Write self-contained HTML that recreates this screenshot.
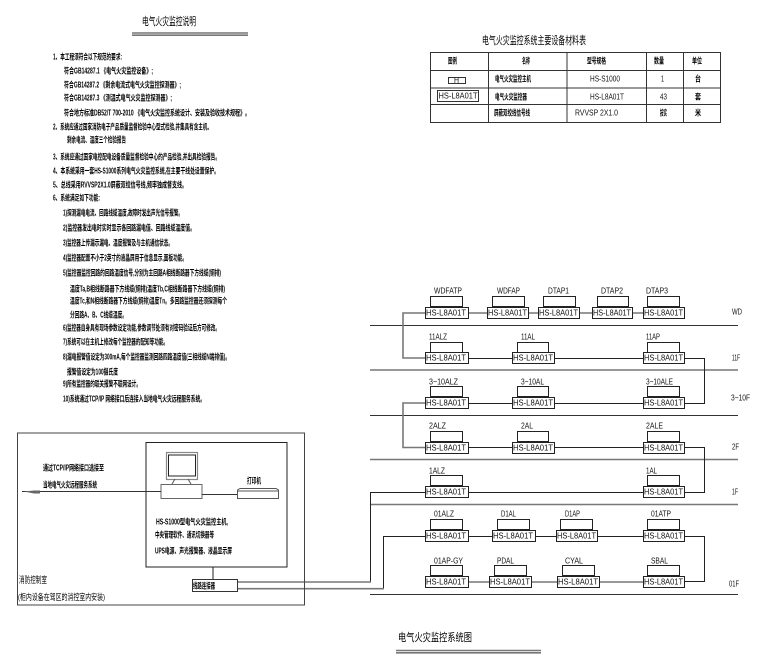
<!DOCTYPE html>
<html><head><meta charset="utf-8"><style>
html,body{margin:0;padding:0;background:#fff}
svg{display:block}
text{font-family:"Liberation Sans","Noto Sans CJK SC",sans-serif;fill:#000}
.b text{font-size:8px;font-weight:700;dominant-baseline:central}
.h text{font-size:8px;font-family:"Liberation Sans",sans-serif;dominant-baseline:central;fill:#111}
.t{font-size:11px;font-weight:400;dominant-baseline:central}
.n rect{fill:#fff;stroke:#222;stroke-width:1}
.l{stroke:#222;stroke-width:1;fill:none}
.g2{stroke:#777;stroke-width:1.6;fill:none}
</style></head><body>
<svg width="760" height="661" viewBox="0 0 760 661" xmlns="http://www.w3.org/2000/svg">
<rect width="760" height="661" fill="#fff"/>

<!-- Top title -->
<text class="t" x="142" y="22" textLength="54" lengthAdjust="spacingAndGlyphs">电气火灾监控说明</text>
<path class="g2" d="M132 33H248M132 35.2H248"/>

<!-- Notes -->
<g class="b">
<text x="53" y="57" textLength="69" lengthAdjust="spacingAndGlyphs">1、本工程须符合以下规范的要求:</text>
<text x="64" y="71" textLength="89" lengthAdjust="spacingAndGlyphs">符合GB14287.1 《电气火灾监控设备》;</text>
<text x="64" y="85" textLength="117" lengthAdjust="spacingAndGlyphs">符合GB14287.2 《剩余电流式电气火灾监控探测器》;</text>
<text x="64" y="98" textLength="108" lengthAdjust="spacingAndGlyphs">符合GB14287.3 《测温式电气火灾监控探测器》;</text>
<text x="64" y="113" textLength="186" lengthAdjust="spacingAndGlyphs">符合地方标准DB52/T 700-2010 《电气火灾监控系统设计、安装及验收技术规程》。</text>
<text x="53" y="127" textLength="159" lengthAdjust="spacingAndGlyphs">2、系统应通过国家消防电子产品质量监督检验中心型式检验,并集具有含主机、</text>
<text x="67" y="140" textLength="59" lengthAdjust="spacingAndGlyphs">剩余电流、温度三个检验报告</text>
<text x="53" y="157" textLength="167" lengthAdjust="spacingAndGlyphs">3、系统应通过国家电控配电设备质量监督检验中心的产品检验,并出具检验报告。</text>
<text x="53" y="171" textLength="166" lengthAdjust="spacingAndGlyphs">4、本系统采用一套HS-S1000系列电气火灾监控系统,在主要干线处设置保护。</text>
<text x="53" y="185" textLength="134" lengthAdjust="spacingAndGlyphs">5、总线采用RVVSP2X1.0屏蔽双绞信号线,频率独成督支线。</text>
<text x="53" y="198" textLength="47" lengthAdjust="spacingAndGlyphs">6、系统满足如下功能:</text>
<text x="63" y="213" textLength="120" lengthAdjust="spacingAndGlyphs">1)探测漏电电流、回路线缆温度,故障时发出声光信号报警。</text>
<text x="63" y="228" textLength="132" lengthAdjust="spacingAndGlyphs">2)监控器发出电时实时显示各回路漏电值、回路线缆温度值。</text>
<text x="63" y="243" textLength="110" lengthAdjust="spacingAndGlyphs">3)监控器上传漏示漏电、温度报警及与主机通信状态。</text>
<text x="63" y="258" textLength="124" lengthAdjust="spacingAndGlyphs">4)监控器配置不小于2英寸的液晶屏用于信息显示,面板功能。</text>
<text x="63" y="273" textLength="158" lengthAdjust="spacingAndGlyphs">5)监控器监控回路的回路温度信号,分别为主回路A相线断路器下方线缆(铜排)</text>
<text x="70" y="289" textLength="155" lengthAdjust="spacingAndGlyphs">温度Ta,B相线断路器下方线缆(铜排)温度Tb,C相线断路器下方线缆(铜排)</text>
<text x="70" y="301" textLength="157" lengthAdjust="spacingAndGlyphs">温度Tc,和N相线断路器下方线缆(铜排)温度Tn。多回路监控器还须探测每个</text>
<text x="70" y="315" textLength="57" lengthAdjust="spacingAndGlyphs">分回路A、B、C线缆温度。</text>
<text x="63" y="328" textLength="157" lengthAdjust="spacingAndGlyphs">6)监控器自身具有现场参数设定功能,参数调节处须有对密码验证后方可修改。</text>
<text x="63" y="342" textLength="105" lengthAdjust="spacingAndGlyphs">7)系统可以在主机上修改每个监控器的配知等功能。</text>
<text x="63" y="357" textLength="167" lengthAdjust="spacingAndGlyphs">8)漏电报警值设定为300mA,每个监控器监测回路四路温度值(三相线缆N端排值)。</text>
<text x="67" y="372" textLength="51" lengthAdjust="spacingAndGlyphs">报警值设定为100摄氏度</text>
<text x="63" y="384" textLength="78" lengthAdjust="spacingAndGlyphs">9)所有监控器的联关报警不联网设计。</text>
<text x="63" y="399" textLength="142" lengthAdjust="spacingAndGlyphs">10)系统通过TCP/IP 网络接口后连接入当地电气火灾远程服务系统。</text>
</g>

<!-- Table -->
<text class="t" x="482" y="41" textLength="104" lengthAdjust="spacingAndGlyphs">电气火灾监控系统主要设备材料表</text>
<path d="M430.5 52.5H720.5V122.5H430.5Z M430.5 70.5H720.5 M430.5 88H720.5 M430.5 104.5H720.5 M488.5 52.5V122.5 M567 52.5V122.5 M646.5 52.5V122.5 M683.5 52.5V122.5" stroke="#333" stroke-width="1" fill="none"/>
<g class="b">
<text x="448" y="61" textLength="9" lengthAdjust="spacingAndGlyphs">图例</text>
<text x="522" y="61" textLength="8" lengthAdjust="spacingAndGlyphs">名称</text>
<text x="587" y="61" textLength="19" lengthAdjust="spacingAndGlyphs">型号规格</text>
<text x="654" y="61" textLength="10" lengthAdjust="spacingAndGlyphs">数量</text>
<text x="692" y="61" textLength="10" lengthAdjust="spacingAndGlyphs">单位</text>
<text x="495" y="79" textLength="36" lengthAdjust="spacingAndGlyphs">电气火灾监控主机</text>
<text x="695" y="79" textLength="6" lengthAdjust="spacingAndGlyphs">台</text>
<text x="495" y="97" textLength="32" lengthAdjust="spacingAndGlyphs">电气火灾监控器</text>
<text x="695" y="97" textLength="6" lengthAdjust="spacingAndGlyphs">套</text>
<text x="494" y="113" textLength="36" lengthAdjust="spacingAndGlyphs">屏蔽双绞线信号线</text>
<text x="660" y="113" textLength="7" lengthAdjust="spacingAndGlyphs">按实</text>
<text x="695" y="113" textLength="6" lengthAdjust="spacingAndGlyphs">米</text>
</g>
<g class="h">
<rect x="448.5" y="77.5" width="17" height="6" fill="#fff" stroke="#333"/>
<text x="454" y="80.5" textLength="5" lengthAdjust="spacingAndGlyphs">H</text>
<rect x="437.5" y="90.5" width="41" height="11" fill="#fff" stroke="#333"/>
<text x="438.5" y="96" textLength="39" lengthAdjust="spacingAndGlyphs">HS-L8A01T</text>
<text x="590" y="79" textLength="30" lengthAdjust="spacingAndGlyphs">HS-S1000</text>
<text x="661" y="79" textLength="3" lengthAdjust="spacingAndGlyphs">1</text>
<text x="590" y="97" textLength="34" lengthAdjust="spacingAndGlyphs">HS-L8A01T</text>
<text x="660" y="97" textLength="7" lengthAdjust="spacingAndGlyphs">43</text>
<text x="575" y="113" textLength="43" lengthAdjust="spacingAndGlyphs">RVVSP 2X1.0</text>
</g>

<!-- Floor lines -->
<path d="M370 325.5H738 M370 415.5H738 M370 594.5H738" stroke="#333" stroke-width="1" fill="none"/>
<path class="g2" d="M370 370H738 M370 459.5H738 M370 504.5H738"/>

<!-- Connectors -->
<path class="g2" d="M425 313H403V358H425 M468 313H487 M528 313H538 M579 313H592 M632 313H643"/>
<path class="l" d="M468 358.5H512 M554 358.5H643 M684 358.5H704.5V403.5H684 M468 403.5H512 M554 403.5H643"/>
<path class="g2" d="M425 403H403V447.5H425"/>
<path class="l" d="M468 447.5H512 M554 447.5H643 M684 447.5H704.5V492.5H684 M468 492.5H643"/>
<path class="l" d="M425 492.5H370.5V581.5"/>
<path class="l" d="M425 536.5H383.5V588.5"/>
<path class="g2" d="M238 582H371 M238 588.7H384"/>
<path class="l" d="M468 536.5H492 M535 536.5H556 M597 536.5H643 M684 536.5H704.5V581.5H684"/>
<path class="g2" d="M468 582H489 M531 582H557 M599 582H643"/>

<!-- Nodes -->
<g class="n">
<rect x="430.5" y="296.5" width="32" height="10"/><rect x="492.5" y="296.5" width="32" height="10"/><rect x="543.5" y="296.5" width="32" height="10"/><rect x="597.5" y="296.5" width="31" height="10"/><rect x="647.5" y="296.5" width="32" height="10"/>
<rect x="425.5" y="307.5" width="43" height="11"/><rect x="487.5" y="307.5" width="41" height="11"/><rect x="538.5" y="307.5" width="41" height="11"/><rect x="592.5" y="307.5" width="40" height="11"/><rect x="643.5" y="307.5" width="41" height="11"/>

<rect x="430.5" y="342.5" width="32" height="10"/><rect x="517.5" y="342.5" width="31" height="10"/><rect x="647.5" y="342.5" width="32" height="10"/>
<rect x="425.5" y="352.5" width="43" height="11"/><rect x="512.5" y="352.5" width="42" height="11"/><rect x="643.5" y="352.5" width="41" height="11"/>

<rect x="430.5" y="386.5" width="32" height="10"/><rect x="517.5" y="386.5" width="31" height="10"/><rect x="647.5" y="386.5" width="32" height="10"/>
<rect x="425.5" y="397.5" width="43" height="11"/><rect x="512.5" y="397.5" width="42" height="11"/><rect x="643.5" y="397.5" width="41" height="11"/>

<rect x="430.5" y="431.5" width="32" height="10"/><rect x="517.5" y="431.5" width="31" height="10"/><rect x="647.5" y="431.5" width="32" height="10"/>
<rect x="425.5" y="442.5" width="43" height="11"/><rect x="512.5" y="442.5" width="42" height="11"/><rect x="643.5" y="442.5" width="41" height="11"/>

<rect x="430.5" y="475.5" width="32" height="10"/><rect x="647.5" y="475.5" width="32" height="10"/>
<rect x="425.5" y="486.5" width="43" height="11"/><rect x="643.5" y="486.5" width="41" height="11"/>

<rect x="430.5" y="519.5" width="32" height="10"/><rect x="497.5" y="519.5" width="32" height="10"/><rect x="560.5" y="519.5" width="32" height="10"/><rect x="647.5" y="519.5" width="32" height="10"/>
<rect x="425.5" y="530.5" width="43" height="11"/><rect x="492.5" y="530.5" width="43" height="11"/><rect x="556.5" y="530.5" width="41" height="11"/><rect x="643.5" y="530.5" width="41" height="11"/>

<rect x="430.5" y="565.5" width="32" height="10"/><rect x="494.5" y="565.5" width="32" height="10"/><rect x="562.5" y="565.5" width="32" height="10"/><rect x="647.5" y="565.5" width="32" height="10"/>
<rect x="425.5" y="576.5" width="43" height="11"/><rect x="489.5" y="576.5" width="42" height="11"/><rect x="557.5" y="576.5" width="42" height="11"/><rect x="643.5" y="576.5" width="41" height="11"/>
</g>

<!-- Node text -->
<g class="h">
<text x="426" y="313" textLength="40" lengthAdjust="spacingAndGlyphs">HS-L8A01T</text><text x="488" y="313" textLength="39" lengthAdjust="spacingAndGlyphs">HS-L8A01T</text><text x="539" y="313" textLength="39" lengthAdjust="spacingAndGlyphs">HS-L8A01T</text><text x="593" y="313" textLength="38" lengthAdjust="spacingAndGlyphs">HS-L8A01T</text><text x="644" y="313" textLength="39" lengthAdjust="spacingAndGlyphs">HS-L8A01T</text>
<text x="426" y="358" textLength="40" lengthAdjust="spacingAndGlyphs">HS-L8A01T</text><text x="513" y="358" textLength="40" lengthAdjust="spacingAndGlyphs">HS-L8A01T</text><text x="644" y="358" textLength="39" lengthAdjust="spacingAndGlyphs">HS-L8A01T</text>
<text x="426" y="403" textLength="40" lengthAdjust="spacingAndGlyphs">HS-L8A01T</text><text x="513" y="403" textLength="40" lengthAdjust="spacingAndGlyphs">HS-L8A01T</text><text x="644" y="403" textLength="39" lengthAdjust="spacingAndGlyphs">HS-L8A01T</text>
<text x="426" y="448" textLength="40" lengthAdjust="spacingAndGlyphs">HS-L8A01T</text><text x="513" y="448" textLength="40" lengthAdjust="spacingAndGlyphs">HS-L8A01T</text><text x="644" y="448" textLength="39" lengthAdjust="spacingAndGlyphs">HS-L8A01T</text>
<text x="426" y="492" textLength="40" lengthAdjust="spacingAndGlyphs">HS-L8A01T</text><text x="644" y="492" textLength="39" lengthAdjust="spacingAndGlyphs">HS-L8A01T</text>
<text x="426" y="536" textLength="40" lengthAdjust="spacingAndGlyphs">HS-L8A01T</text><text x="493" y="536" textLength="40" lengthAdjust="spacingAndGlyphs">HS-L8A01T</text><text x="557" y="536" textLength="39" lengthAdjust="spacingAndGlyphs">HS-L8A01T</text><text x="644" y="536" textLength="39" lengthAdjust="spacingAndGlyphs">HS-L8A01T</text>
<text x="426" y="582" textLength="40" lengthAdjust="spacingAndGlyphs">HS-L8A01T</text><text x="490" y="582" textLength="40" lengthAdjust="spacingAndGlyphs">HS-L8A01T</text><text x="558" y="582" textLength="40" lengthAdjust="spacingAndGlyphs">HS-L8A01T</text><text x="644" y="582" textLength="39" lengthAdjust="spacingAndGlyphs">HS-L8A01T</text>

<text x="434" y="291" textLength="28" lengthAdjust="spacingAndGlyphs">WDFATP</text><text x="497" y="291" textLength="23" lengthAdjust="spacingAndGlyphs">WDFAP</text><text x="548" y="291" textLength="21" lengthAdjust="spacingAndGlyphs">DTAP1</text><text x="601" y="291" textLength="22" lengthAdjust="spacingAndGlyphs">DTAP2</text><text x="646" y="291" textLength="22" lengthAdjust="spacingAndGlyphs">DTAP3</text>
<text x="429" y="337" textLength="18" lengthAdjust="spacingAndGlyphs">11ALZ</text><text x="521" y="337" textLength="14" lengthAdjust="spacingAndGlyphs">11AL</text><text x="646" y="337" textLength="14" lengthAdjust="spacingAndGlyphs">11AP</text>
<text x="429" y="382" textLength="29" lengthAdjust="spacingAndGlyphs">3~10ALZ</text><text x="521" y="382" textLength="23" lengthAdjust="spacingAndGlyphs">3~10AL</text><text x="646" y="382" textLength="27" lengthAdjust="spacingAndGlyphs">3~10ALE</text>
<text x="429" y="426" textLength="17" lengthAdjust="spacingAndGlyphs">2ALZ</text><text x="521" y="426" textLength="12" lengthAdjust="spacingAndGlyphs">2AL</text><text x="646" y="426" textLength="17" lengthAdjust="spacingAndGlyphs">2ALE</text>
<text x="429" y="471" textLength="16" lengthAdjust="spacingAndGlyphs">1ALZ</text><text x="646" y="471" textLength="11" lengthAdjust="spacingAndGlyphs">1AL</text>
<text x="434" y="514" textLength="20" lengthAdjust="spacingAndGlyphs">01ALZ</text><text x="501" y="514" textLength="15" lengthAdjust="spacingAndGlyphs">D1AL</text><text x="565" y="514" textLength="15" lengthAdjust="spacingAndGlyphs">D1AP</text><text x="651" y="514" textLength="20" lengthAdjust="spacingAndGlyphs">01ATP</text>
<text x="434" y="561" textLength="29" lengthAdjust="spacingAndGlyphs">01AP-GY</text><text x="497" y="561" textLength="17" lengthAdjust="spacingAndGlyphs">PDAL</text><text x="565" y="561" textLength="18" lengthAdjust="spacingAndGlyphs">CYAL</text><text x="651" y="561" textLength="17" lengthAdjust="spacingAndGlyphs">SBAL</text>

<text x="732" y="312" textLength="10" lengthAdjust="spacingAndGlyphs">WD</text>
<text x="732" y="358" textLength="8" lengthAdjust="spacingAndGlyphs">11F</text>
<text x="731" y="398" textLength="19" lengthAdjust="spacingAndGlyphs">3~10F</text>
<text x="732" y="447" textLength="7" lengthAdjust="spacingAndGlyphs">2F</text>
<text x="732" y="492" textLength="6" lengthAdjust="spacingAndGlyphs">1F</text>
<text x="729" y="584" textLength="10" lengthAdjust="spacingAndGlyphs">01F</text>
</g>

<!-- Control room -->
<rect x="17.5" y="433" width="287" height="172" fill="none" stroke="#444" stroke-width="1"/>
<rect x="146" y="442.5" width="141" height="124.5" fill="none" stroke="#222" stroke-width="1"/>
<rect x="166.5" y="452.5" width="31" height="27" fill="#fff" stroke="#888" stroke-width="1.2"/>
<rect x="168.5" y="455" width="27" height="21" fill="#fff" stroke="#222" stroke-width="1"/>
<path d="M175 479L172 484M188 479L191 484" stroke="#555" fill="none"/>
<rect x="161" y="484.5" width="41" height="14" fill="#fff" stroke="#666" stroke-width="1"/>
<path d="M22 491.5H161M202 494.5H237" stroke="#333" fill="none"/>
<path d="M24 491.5L34 490.5H40V493.5H34Z" fill="#666" stroke="none"/>
<path d="M237.5 498.5V490L240 488.5H276L278.5 490V498.5Z M237.5 491H278.5" fill="none" stroke="#555"/>
<path d="M213 567V579" stroke="#222" fill="none"/>
<rect x="192.5" y="579.5" width="45" height="12" fill="#fff" stroke="#333"/>
<g class="b">
<text x="43" y="468" textLength="61" lengthAdjust="spacingAndGlyphs">通过TCP/IP网络接口选接至</text>
<text x="43" y="485" textLength="54" lengthAdjust="spacingAndGlyphs">当地电气火灾远程服务系统</text>
<text x="247" y="481" textLength="14" lengthAdjust="spacingAndGlyphs">打印机</text>
<text x="156" y="522" textLength="72" lengthAdjust="spacingAndGlyphs">HS-S1000型电气火灾监控主机,</text>
<text x="155" y="535" textLength="59" lengthAdjust="spacingAndGlyphs">中央管理软件、通讯切换器等</text>
<text x="155" y="551" textLength="77" lengthAdjust="spacingAndGlyphs">UPS电源、声光报警器、液晶显示屏</text>
<text x="193" y="586" textLength="22" lengthAdjust="spacingAndGlyphs">线路连接器</text>
<text x="19" y="580" textLength="28" lengthAdjust="spacingAndGlyphs" style="font-size:9px;font-weight:400">消防控制室</text>
<text x="18" y="597" textLength="87" lengthAdjust="spacingAndGlyphs" style="font-size:8.5px;font-weight:400">(柜内设备在驾区的消控室内安装)</text>
</g>

<!-- Bottom title -->
<text class="t" x="398" y="638" textLength="74" lengthAdjust="spacingAndGlyphs">电气火灾监控系统图</text>
<path class="g2" d="M396 650.5H541M396 652.8H541"/>
</svg>
</body></html>
